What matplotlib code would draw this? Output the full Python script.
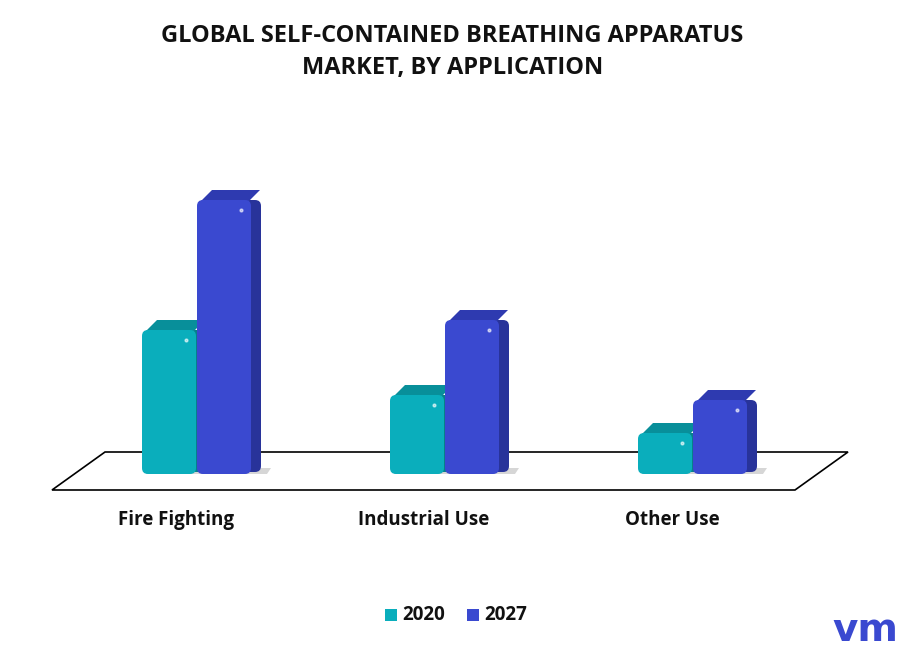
import matplotlib
matplotlib.use("Agg")
import matplotlib.pyplot as plt
from matplotlib.patches import Polygon, FancyBboxPatch

categories = ["Fire Fighting", "Industrial Use", "Other Use"]
series = ["2020", "2027"]
v2020 = [144, 79, 41]
v2027 = [274, 154, 74]
front = ["#0aaebc", "#3a49d0"]
side = ["#07808a", "#28339a"]
topc = ["#088f9a", "#2e3ab0"]

W, H = 905, 650
fig = plt.figure(figsize=(W/100, H/100), dpi=100)
ax = fig.add_axes([0, 0, 1, 1])
ax.set_xlim(0, W)
ax.set_ylim(-(H-474), 474)
ax.axis("off")

floor = Polygon([(52, -16), (795, -16), (848, 22), (105, 22)], closed=True,
                facecolor="white", edgecolor="black", lw=1.2, zorder=1)
ax.add_patch(floor)

centers = [196, 444, 692]
bw = 54
dx, dy = 12, 10
for i, c in enumerate(centers):
    for j, vals in enumerate([v2020, v2027]):
        x0 = c - bw + j*bw + (1 if j else 0)
        h = vals[i]
        ax.add_patch(Polygon([(x0+4, 0), (x0+bw+dx+4, 0), (x0+bw+dx+8, 6), (x0+8, 6)],
                             facecolor="#bbbbbb", edgecolor="none", alpha=0.6, zorder=2))
        ax.add_patch(FancyBboxPatch((x0+bw-10, dy-8), dx+8, h-2, boxstyle="round,pad=0,rounding_size=6",
                                    facecolor=side[j], edgecolor="none", zorder=3+j*3+i*10))
        ax.add_patch(Polygon([(x0+3, h-2), (x0+bw-3, h-2), (x0+bw+dx-3, h+dy), (x0+dx+3, h+dy)],
                             facecolor=topc[j], edgecolor="none", zorder=3+j*3+i*10))
        ax.add_patch(FancyBboxPatch((x0, 0), bw, h, boxstyle="round,pad=0,rounding_size=6",
                                    facecolor=front[j], edgecolor="none",
                                    mutation_aspect=1, zorder=4+j*3+i*10))
        ax.plot([x0+bw-10], [h-10], marker="o", ms=2, color="white", alpha=0.6, zorder=5+j*3+i*10)

for c, lab in zip(centers, categories):
    ax.text(c - 20, 474-520, lab, ha="center", va="center", fontsize=13.5,
            fontfamily="Open Sans", fontweight="bold", color="#111111")

fig.text(0.5, 1 - 52/H, "GLOBAL SELF-CONTAINED BREATHING APPARATUS\nMARKET, BY APPLICATION",
         ha="center", va="center", fontsize=17, fontweight="bold",
         fontfamily="Open Sans", linespacing=1.4, color="#111111")

for k, (name, col) in enumerate(zip(series, front)):
    lx = 385 + k*82
    fig.patches.append(plt.Rectangle((lx/W, 1-621/H), 12/W, 12/H, transform=fig.transFigure,
                                     facecolor=col, edgecolor="none"))
    fig.text((lx+17)/W, 1-615/H, name, ha="left", va="center", fontsize=13.5,
             fontweight="bold", fontfamily="Open Sans", color="#111111")

fig.text(865/W, 1-630/H, "vm", ha="center", va="center", fontsize=28,
         fontweight="bold", color="#3a49d0", fontfamily="DejaVu Sans")

fig.savefig("out.png", dpi=100)
